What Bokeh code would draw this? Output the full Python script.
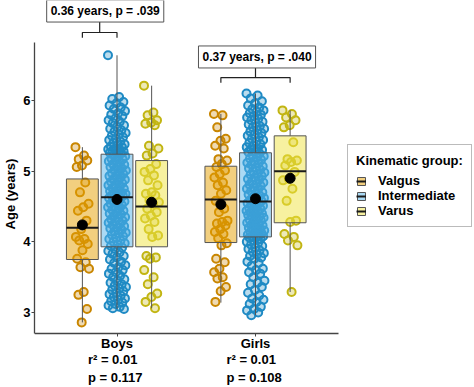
import numpy as np
from bokeh.plotting import figure
from bokeh.models import (ColumnDataSource, Range1d, FixedTicker, Legend,
                          LegendItem, Label)
from bokeh.core.properties import value
from bokeh.embed import file_html
from bokeh.resources import INLINE

# ---------------- data ----------------
sexes = ["Boys", "Girls"]
groups = ["Valgus", "Intermediate", "Varus"]
r2_labels = ["r\u00b2 = 0.01", "r\u00b2 = 0.01"]
p_labels = ["p = 0.117", "p = 0.108"]
diff_labels = ["0.36 years, p = .039", "0.37 years, p = .040"]

boys_valgus = [5.34, 5.22, 5.17, 5.15, 5.08, 5.06, 4.84, 4.70, 4.54, 4.49, 4.44,
               4.30, 4.18, 4.07, 4.04, 4.02, 3.97, 3.88, 3.76, 3.71, 3.64, 3.62,
               3.29, 3.25, 3.05, 2.86]
boys_intermediate = [
    6.64, 6.05, 6.02, 5.98, 5.96, 5.93, 5.90, 5.88, 5.85, 5.82, 5.80, 5.78, 5.75,
    5.72, 5.70, 5.68, 5.65, 5.63, 5.60, 5.58, 5.56, 5.54, 5.52, 5.50, 5.48, 5.46,
    5.44, 5.42, 5.40, 5.38, 5.37, 5.35, 5.34, 5.32, 5.31, 5.30, 5.29, 5.28, 5.27,
    5.26, 5.25,
    5.23, 5.21, 5.20, 5.18, 5.17, 5.15, 5.14, 5.12, 5.10, 5.09, 5.07, 5.06, 5.04,
    5.02, 5.01, 4.99, 4.97, 4.96, 4.94, 4.93, 4.91, 4.89, 4.88, 4.86, 4.85, 4.83,
    4.81, 4.80, 4.78, 4.76, 4.75, 4.73, 4.72, 4.70, 4.69, 4.68, 4.67, 4.66, 4.65,
    4.64,
    4.62, 4.60, 4.59, 4.57, 4.55, 4.54, 4.52, 4.50, 4.49, 4.47, 4.45, 4.44, 4.42,
    4.40, 4.39, 4.37, 4.35, 4.34, 4.32, 4.30, 4.29, 4.27, 4.25, 4.24, 4.22, 4.20,
    4.19, 4.17, 4.15, 4.13, 4.12, 4.10, 4.08, 4.06, 4.04, 4.02, 4.00, 3.98, 3.96,
    3.94,
    3.92, 3.90, 3.87, 3.85, 3.83, 3.80, 3.78, 3.75, 3.72, 3.70, 3.67, 3.64, 3.62,
    3.60, 3.57, 3.55, 3.52, 3.50, 3.47, 3.45, 3.42, 3.40, 3.38, 3.36, 3.34, 3.32,
    3.30, 3.28, 3.26, 3.24, 3.22, 3.20, 3.18, 3.16, 3.14, 3.12, 3.10, 3.08, 3.06,
    3.05]
boys_varus = [6.21, 5.83, 5.79, 5.72, 5.69, 5.67, 5.65, 5.36, 5.32, 5.25, 5.22,
              5.10, 5.03, 4.99, 4.94, 4.87, 4.80, 4.70, 4.68, 4.66, 4.59, 4.56,
              4.54, 4.47, 4.42, 4.37, 4.33, 4.28, 4.18, 4.09, 4.07, 3.80, 3.78,
              3.76, 3.60, 3.50, 3.40, 3.27, 3.22, 3.15, 3.06]
girls_valgus = [5.81, 5.79, 5.62, 5.46, 5.43, 5.36, 5.32, 5.17, 5.15, 5.10, 5.06,
                5.01, 4.96, 4.91, 4.84, 4.80, 4.73, 4.68, 4.58, 4.47, 4.42, 4.30,
                4.28, 4.26, 4.23, 4.18, 4.14, 4.11, 4.05, 3.98, 3.95, 3.76, 3.71,
                3.62, 3.57, 3.50, 3.48, 3.36, 3.30, 3.15]
girls_intermediate = [
    6.10, 6.07, 6.03, 5.99, 5.96, 5.93, 5.90, 5.88, 5.86, 5.84, 5.82, 5.80, 5.78,
    5.76, 5.74, 5.72, 5.70, 5.68, 5.66, 5.64, 5.62, 5.60, 5.58, 5.56, 5.54, 5.52,
    5.50, 5.48, 5.46, 5.44, 5.42, 5.40, 5.38, 5.36, 5.34, 5.32, 5.31, 5.30, 5.28,
    5.27,
    5.25, 5.23, 5.21, 5.19, 5.18, 5.16, 5.14, 5.12, 5.11, 5.09, 5.07, 5.05, 5.04,
    5.02, 5.00, 4.98, 4.96, 4.95, 4.93, 4.91, 4.89, 4.88, 4.86, 4.84, 4.82, 4.81,
    4.79, 4.77, 4.75, 4.74, 4.72, 4.70, 4.68, 4.67, 4.65, 4.63, 4.62, 4.60, 4.59,
    4.58,
    4.56, 4.55, 4.54, 4.52, 4.51, 4.50, 4.48, 4.47, 4.46, 4.44, 4.43, 4.42, 4.40,
    4.39, 4.38, 4.36, 4.35, 4.34, 4.32, 4.31, 4.30, 4.28, 4.27, 4.26, 4.24, 4.23,
    4.22, 4.20, 4.19, 4.18, 4.16, 4.15, 4.14, 4.12, 4.11, 4.10, 4.09, 4.08, 4.08,
    4.07,
    4.06, 4.04, 4.02, 4.00, 3.98, 3.96, 3.94, 3.92, 3.90, 3.88, 3.86, 3.84, 3.82,
    3.80, 3.78, 3.76, 3.72, 3.70, 3.66, 3.62, 3.60, 3.57, 3.55, 3.50, 3.45, 3.42,
    3.40, 3.36, 3.32, 3.28, 3.24, 3.20, 3.18, 3.15, 3.12, 3.08, 3.05, 3.03, 3.00,
    2.96]
girls_varus = [5.86, 5.81, 5.76, 5.72, 5.65, 5.62, 5.41, 5.17, 5.15, 5.13, 5.08,
               4.99, 4.89, 4.87, 4.75, 4.58, 4.30, 4.28, 4.11, 4.07, 4.02, 3.95,
               3.29]

# box statistics, [Boys, Girls]
q1 = {"Valgus": [3.75, 3.99], "Intermediate": [3.93, 4.07], "Varus": [3.93, 4.27]}
med = {"Valgus": [4.20, 4.60], "Intermediate": [4.63, 4.57], "Varus": [4.50, 5.00]}
q3 = {"Valgus": [4.89, 5.07], "Intermediate": [5.24, 5.26], "Varus": [5.15, 5.50]}
lo = {"Valgus": [2.86, 3.14], "Intermediate": [3.05, 2.96], "Varus": [3.06, 3.29]}
hi = {"Valgus": [5.34, 5.81], "Intermediate": [6.64, 6.10], "Varus": [6.21, 5.86]}
mean = {"Valgus": [4.24, 4.53], "Intermediate": [4.60, 4.61], "Varus": [4.56, 4.90]}

points = {
    ("Boys", "Valgus"): boys_valgus, ("Boys", "Intermediate"): boys_intermediate,
    ("Boys", "Varus"): boys_varus, ("Girls", "Valgus"): girls_valgus,
    ("Girls", "Intermediate"): girls_intermediate, ("Girls", "Varus"): girls_varus,
}

# ---------------- styling ----------------
FONT = "Liberation Sans"
box_fill = {"Valgus": "#E69F00", "Intermediate": "#56B4E9", "Varus": "#F0E442"}
pt_col = {"Valgus": "#C98600", "Intermediate": "#1F8AC4", "Varus": "#C2B512"}
offset = {"Valgus": -0.25, "Intermediate": 0.0, "Varus": 0.25}
BOX_W = 0.23
JIT = {"Valgus": 0.05, "Intermediate": 0.065, "Varus": 0.055}

W, H = 474, 387
FRAME_LEFT = 34          # px, width of the y-axis panel
PX_PER_X = 138.5
PX_PER_Y = 70.67
X0 = 1 - (116.5 - FRAME_LEFT) / PX_PER_X
X1 = X0 + (W - FRAME_LEFT) / PX_PER_X
Y1 = 6 + 100 / PX_PER_Y
Y0 = Y1 - H / PX_PER_Y

p = figure(width=W, height=H, x_range=Range1d(X0, X1), y_range=Range1d(Y0, Y1),
           output_backend="svg", toolbar_location=None,
           min_border_left=0, min_border_right=0, min_border_top=0,
           min_border_bottom=0)
p.outline_line_color = None
p.xgrid.visible = False
p.ygrid.visible = False

sex_pos = np.arange(1, len(sexes) + 1)
legend_items = []
for g in groups:
    xc = sex_pos + offset[g]
    xs, ys = [], []
    for si, s in enumerate(sexes):
        vals = points[(s, g)]
        for i, v in enumerate(vals):
            j = ((i * 0.6180339887) % 1.0 - 0.5) * 2 * JIT[g]
            xs.append(xc[si] + j)
            ys.append(v)
    p.scatter(xs, ys, size=8, line_color=pt_col[g], fill_color=pt_col[g],
              fill_alpha=0.3, line_width=2)
    src = ColumnDataSource(dict(x=xc, left=xc - BOX_W / 2, right=xc + BOX_W / 2,
                                q1=q1[g], q3=q3[g], med=med[g], lo=lo[g],
                                hi=hi[g], mean=mean[g]))
    p.segment(x0="x", y0="q3", x1="x", y1="hi", source=src, line_color="#555555",
              line_width=1)
    p.segment(x0="x", y0="lo", x1="x", y1="q1", source=src, line_color="#555555",
              line_width=1)
    br = p.quad(left="left", right="right", bottom="q1", top="q3", source=src,
                fill_color=box_fill[g], fill_alpha=0.5, line_color="#555555",
                line_width=1)
    mr = p.segment(x0="left", y0="med", x1="right", y1="med", source=src,
                   line_color="#1a1a1a", line_width=2)
    p.scatter(x="x", y="mean", source=src, size=10, color="black")
    legend_items.append(LegendItem(label=g, renderers=[br, mr]))

# group statistics under the axis
txt = ColumnDataSource(dict(x=sex_pos - 0.21, r2=r2_labels, pv=p_labels,
                            y1=[2.335, 2.335], y2=[2.085, 2.085]))
p.text(x="x", y="y1", text="r2", source=txt, text_font=value(FONT),
       text_font_style="bold", text_font_size="13px", text_align="left",
       text_baseline="middle", text_color="black")
p.text(x="x", y="y2", text="pv", source=txt, text_font=value(FONT),
       text_font_style="bold", text_font_size="13px", text_align="left",
       text_baseline="middle", text_color="black")

# comparison brackets
br_x0 = [1 + offset["Valgus"], 2 + offset["Valgus"]]
br_x1 = [1 + offset["Intermediate"], 2 + offset["Varus"]]
br_y = [6.962, 6.325]
br_top = [7.13, 6.495]
for k in range(2):
    xm = (br_x0[k] + br_x1[k]) / 2
    p.line([br_x0[k], br_x0[k], br_x1[k], br_x1[k]],
           [br_y[k] - 0.075, br_y[k], br_y[k], br_y[k] - 0.075],
           line_color="#222222", line_width=1.2)
    p.line([xm, xm], [br_y[k], br_top[k]], line_color="#222222", line_width=1.2)
lab_x = [0.915, 2.011]
lab_y = [7.266, 6.616]
for k in range(2):
    p.add_layout(Label(x=lab_x[k], y=lab_y[k], text=diff_labels[k],
                       text_align="center", text_baseline="middle",
                       text_font=FONT, text_font_style="bold",
                       text_font_size="12px", text_color="black",
                       background_fill_color="white",
                       border_line_color="#555555", border_line_width=1,
                       padding=4))

# axes
AX_BOTTOM, AX_TOP = 2.703, 6.825
p.yaxis.ticker = FixedTicker(ticks=[3, 4, 5, 6])
p.yaxis.bounds = (AX_BOTTOM, AX_TOP)
p.yaxis.axis_label = "Age (years)"
p.yaxis.axis_label_text_font = FONT
p.yaxis.axis_label_text_font_style = "bold"
p.yaxis.axis_label_text_font_size = "13px"
p.yaxis.axis_label_text_color = "black"
p.yaxis.axis_label_standoff = 2
p.yaxis.major_label_text_font = FONT
p.yaxis.major_label_text_font_style = "bold"
p.yaxis.major_label_text_font_size = "13px"
p.yaxis.major_label_text_color = "black"
p.yaxis.major_label_standoff = 1
p.yaxis.major_tick_out = 3
p.yaxis.major_tick_in = 0
p.yaxis.minor_tick_line_color = None
p.yaxis.axis_line_color = "#444444"
p.yaxis.axis_line_width = 1.3
p.yaxis.major_tick_line_color = "#444444"

p.xaxis.fixed_location = AX_BOTTOM
p.xaxis.ticker = FixedTicker(ticks=list(sex_pos))
p.xaxis.major_label_overrides = {int(i): s for i, s in zip(sex_pos, sexes)}
p.xaxis.bounds = (X0, 2.6)
p.xaxis.major_label_text_font = FONT
p.xaxis.major_label_text_font_style = "bold"
p.xaxis.major_label_text_font_size = "13px"
p.xaxis.major_label_text_color = "black"
p.xaxis.major_label_standoff = 0
p.xaxis.major_tick_out = 3
p.xaxis.major_tick_in = 0
p.xaxis.minor_tick_line_color = None
p.xaxis.axis_line_color = "#444444"
p.xaxis.axis_line_width = 1.3
p.xaxis.major_tick_line_color = "#444444"

legend = Legend(items=legend_items, location=(313, 160), title="Kinematic group:",
                title_text_font=FONT, title_text_font_style="bold",
                title_text_font_size="13px", title_text_color="black",
                title_standoff=5, label_text_font=FONT,
                label_text_font_style="bold", label_text_font_size="13px",
                label_text_color="black", label_height=15, glyph_height=10,
                glyph_width=10, label_standoff=12, spacing=0, padding=8,
                margin=0, border_line_color="#777777", border_line_width=1,
                background_fill_color="white")
p.add_layout(legend)

open("out.html", "w").write(file_html(p, INLINE))
